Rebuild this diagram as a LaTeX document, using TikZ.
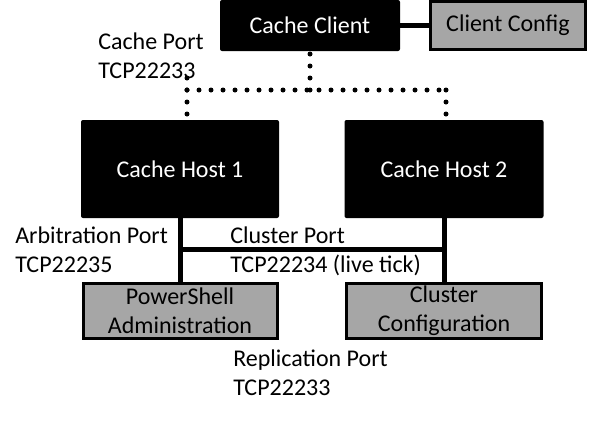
\documentclass[tikz,border=0pt]{standalone}
\usepackage{fontspec}
\setmainfont{Carlito}
\def\pxu{0.75pt}
\definecolor{boxgray}{HTML}{A6A6A6}
\tikzset{
  darkbox/.style={fill=black, text=white, rounded corners=2*\pxu, inner sep=0pt, align=center},
  graybox/.style={fill=boxgray, draw=black, line width=3*\pxu, inner sep=0pt, align=center},
  portlabel/.style={anchor=base west, inner sep=0pt, align=left},
  wire/.style={line width=5*\pxu},
  dotwire/.style={line width=5*\pxu, line cap=round, dash pattern=on 0pt off 9pt}
}
\begin{document}
\begin{tikzpicture}[x=\pxu, y=-\pxu, font=\fontsize{18pt}{21.75pt}\selectfont]
\useasboundingbox (0,0) rectangle (589,444);

\node [darkbox, minimum width=180*\pxu, minimum height=51*\pxu] (client) at (310,25.5) {Cache Client};
\node [graybox, minimum width=155*\pxu, minimum height=48*\pxu] (config) at (508,25.5) {Client Config};

\node [darkbox, minimum width=198*\pxu, minimum height=98*\pxu] (host1) at (180,169) {Cache Host 1};
\node [darkbox, minimum width=199*\pxu, minimum height=98*\pxu] (host2) at (444,169) {Cache Host 2};

\node [graybox, minimum width=194*\pxu, minimum height=55*\pxu] (psadmin) at (180,311) {PowerShell\\Administration};
\node [graybox, minimum width=195*\pxu, minimum height=55*\pxu] (clusterconf) at (444,311) {Cluster\\Configuration};

% cache port bus
\coordinate (busL) at (187,90);
\coordinate (busM) at (310,90);
\coordinate (busR) at (446,90);
\draw [dotwire] (busM) -- (client.south);
\draw [dotwire] (busL) -- (busR);
\draw [dotwire] ([yshift=9pt]busL) -- (busL |- host1.north);
\draw [dotwire] (busR) -- (busR |- host2.north);

\draw [wire] (client.east) -- (config.west);

% cluster port
\draw [wire] (host1.south) -- (psadmin.north);
\draw [wire] (host2.south) -- (clusterconf.north);
\coordinate (tickL) at (180,249);
\coordinate (tickR) at (444,249);
\draw [wire] (tickL) -- (tickR);

% base of a two-line label is its last line
\node [portlabel] (cacheport) at (98,78) {Cache Port\\TCP22233};
\node [portlabel] (arbport) at (15,272) {Arbitration Port\\TCP22235};
\node [portlabel] (clusterport) at (230,272) {Cluster Port\\TCP22234 (live tick)};
\node [portlabel] (replport) at (233,395) {Replication Port\\TCP22233};
\end{tikzpicture}
\end{document}
